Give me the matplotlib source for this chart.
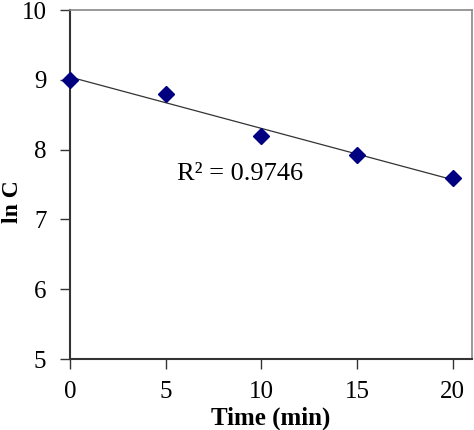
import matplotlib
matplotlib.use("Agg")
import matplotlib.pyplot as plt
import numpy as np

time_min = [0, 5, 10, 15, 20]
ln_c = [9.0, 8.8, 8.2, 7.92, 7.6]
x_ticks = [0, 5, 10, 15, 20]
y_ticks = [5, 6, 7, 8, 9, 10]
r2_label = "R² = 0.9746"

plt.rcParams['font.family'] = ['Liberation Serif', 'DejaVu Serif']

fig = plt.figure(figsize=(4.74, 4.30), dpi=100)
ax = fig.add_axes([0.1477, 0.1651, 0.848, 0.8116])

x = np.array(time_min, dtype=float)
y = np.array(ln_c, dtype=float)
slope, intercept = np.polyfit(x, y, 1)
xf = np.array([x.min(), x.max()])
ax.plot(xf, slope * xf + intercept, color='#333333', lw=0.9, zorder=2)
ax.plot(x, y, linestyle='none', marker='D', markersize=8, color='#000080', zorder=3,
        clip_on=False)

ax.set_xlim(0, 21)
ax.set_ylim(5, 10)
ax.set_xticks(x_ticks)
ax.set_yticks(y_ticks)
ax.tick_params(direction='out', length=7, width=1, labelsize=18, color='#333333')
ax.tick_params(axis='x', pad=9)
ax.tick_params(axis='y', pad=10)

for s in ['left', 'bottom']:
    ax.spines[s].set_color('#333333')
    ax.spines[s].set_linewidth(1.5)
for s in ['top', 'right']:
    ax.spines[s].set_color('#888888')
    ax.spines[s].set_linewidth(1.2)

ax.set_xlabel('Time (min)', fontsize=18, fontweight='bold')
ax.set_ylabel('ln C', fontsize=17, fontweight='bold', va='center')
ax.xaxis.set_label_coords(0.5, -0.137)
ax.yaxis.set_label_coords(-0.144, 0.45)

ax.text(5.6, 7.65, r2_label, fontsize=19, va='center', ha='left')

fig.savefig('out.png', dpi=100)
